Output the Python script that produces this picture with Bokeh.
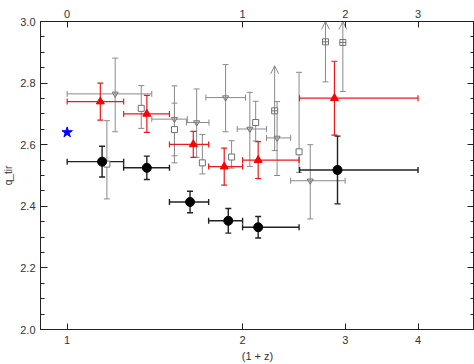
from bokeh.plotting import figure
from bokeh.models import (ColumnDataSource, Whisker, TeeHead, OpenHead, FixedTicker,
                          LogAxis, LinearAxis, Range1d, PrintfTickFormatter,
                          CustomLabelingPolicy)
from bokeh.embed import file_html
from bokeh.resources import INLINE

# ---------------- data ----------------
# black filled circles
bc_z1 = [1.148, 1.370, 1.625, 1.890, 2.127, 2.91]
bc_xlo = [1.0, 1.25, 1.498, 1.749, 2.0, 2.505]
bc_xhi = [1.25, 1.498, 1.749, 2.0, 2.50, 4.0]
bc_q = [2.545, 2.525, 2.414, 2.353, 2.332, 2.518]
bc_qerr = [0.05, 0.038, 0.035, 0.04, 0.035, 0.11]

# red filled triangles
rt_z1 = [1.14, 1.37, 1.646, 1.86, 2.127, 2.875]
rt_xlo = [1.0, 1.25, 1.498, 1.749, 2.0, 2.505]
rt_xhi = [1.25, 1.498, 1.749, 2.0, 2.50, 4.0]
rt_q = [2.740, 2.700, 2.601, 2.529, 2.55, 2.751]
rt_qerr = [0.06, 0.06, 0.042, 0.06, 0.06, 0.12]

# grey open squares
gs_z1 = [1.170, 1.34, 1.528, 1.706, 1.915, 2.106, 2.50]
gs_q = [2.537, 2.718, 2.649, 2.541, 2.560, 2.672, 2.577]
gs_qlo = [2.424, 2.653, 2.564, 2.505, 2.524, 2.612, 2.510]
gs_qhi = [2.678, 2.792, 2.735, 2.633, 2.613, 2.741, 2.835]

# grey lower limits (crossed squares with arrows)
ll_z1 = [2.270, 2.775, 2.972]
ll_q = [2.710, 2.934, 2.932]
ll_qlo = [2.581, 2.804, 2.773]
ll_qup = [2.856, 3.0, 3.0]

# grey open inverted triangles
gt_z1 = [1.209, 1.528, 1.668, 1.870, 2.058, 2.292, 2.613]
gt_xlo = [1.0, 1.397, 1.602, 1.730, 1.958, 2.198, 2.418]
gt_xhi = [1.397, 1.608, 1.751, 2.023, 2.198, 2.418, 2.999]
gt_q = [2.765, 2.683, 2.672, 2.753, 2.651, 2.622, 2.483]
gt_qlo = [2.642, 2.541, 2.559, 2.642, 2.529, 2.500, 2.359]
gt_qhi = [2.881, 2.791, 2.781, 2.860, 2.770, 2.740, 2.600]

# local reference (blue star)
star_z1 = [1.0]
star_q = [2.64]

# ticks
x_ticks = [1, 2, 3, 4]
z_tick_labels = ["0", "1", "2", "3"]
y_ticks = [2.0, 2.2, 2.4, 2.6, 2.8, 3.0]
y_minor = [2.05, 2.1, 2.15, 2.25, 2.3, 2.35, 2.45, 2.5, 2.55, 2.65, 2.7, 2.75,
           2.85, 2.9, 2.95]

# ---------------- figure ----------------
FONT = "Liberation Sans"
AX = "#222222"
GREY = "#8a8a8a"
GREYM = "#707070"

p = figure(width=474, height=364, x_axis_type="log",
           x_range=Range1d(0.9, 5.0), y_range=Range1d(2.0, 3.0),
           output_backend="svg", toolbar_location=None,
           min_border_left=39, min_border_right=0, min_border_top=21, min_border_bottom=0)
p.grid.visible = False
p.outline_line_color = AX
p.background_fill_color = "white"
p.border_fill_color = "white"


def style_axis(ax, tick_in, minor_in):
    ax.axis_line_color = AX
    ax.axis_line_width = 1
    ax.major_tick_line_color = AX
    ax.minor_tick_line_color = AX
    ax.major_tick_in = tick_in
    ax.major_tick_out = 0
    ax.minor_tick_in = minor_in
    ax.minor_tick_out = 0
    ax.major_label_text_font = FONT
    ax.major_label_text_font_size = "11px"
    ax.major_label_text_color = "#333333"
    ax.axis_label_text_font = FONT
    ax.axis_label_text_font_size = "11px"
    ax.axis_label_text_font_style = "normal"
    ax.axis_label_text_color = "#333333"


xb = p.xaxis[0]
xb.ticker = FixedTicker(ticks=x_ticks, minor_ticks=[])
xb.formatter = PrintfTickFormatter(format="%d")
style_axis(xb, 6, 0)
xb.major_label_standoff = 6
xb.axis_label = "(1 + z)"
xb.axis_label_standoff = 3

yl = p.yaxis[0]
yl.ticker = FixedTicker(ticks=y_ticks, minor_ticks=y_minor)
yl.formatter = PrintfTickFormatter(format="%.1f")
style_axis(yl, 7, 4)
yl.axis_label = "q_tir"
yl.axis_label_text_font_size = "10px"
yl.major_label_standoff = 5
yl.axis_label_standoff = 3

xt = LogAxis(ticker=FixedTicker(ticks=x_ticks, minor_ticks=[]),
             formatter=PrintfTickFormatter(format="%d"),
             major_label_overrides={t: s for t, s in zip(x_ticks, z_tick_labels)})
style_axis(xt, 6, 0)
xt.major_label_standoff = 4
p.add_layout(xt, "above")

yr = LinearAxis(ticker=FixedTicker(ticks=y_ticks, minor_ticks=y_minor))
style_axis(yr, 7, 4)
yr.major_label_text_font_size = "0px"
yr.major_label_standoff = 0
yr.major_label_policy = CustomLabelingPolicy(code="return new Set()")
p.add_layout(yr, "right")

# ---------------- sources ----------------
src_gs = ColumnDataSource(dict(x=gs_z1, y=gs_q, lo=gs_qlo, hi=gs_qhi))
src_ll = ColumnDataSource(dict(x=ll_z1, y=ll_q, lo=ll_qlo, hi=ll_qup))
src_gt = ColumnDataSource(dict(x=gt_z1, y=gt_q, lo=gt_qlo, hi=gt_qhi, xlo=gt_xlo, xhi=gt_xhi))
src_rt = ColumnDataSource(dict(x=rt_z1, y=rt_q,
                               lo=[a - b for a, b in zip(rt_q, rt_qerr)],
                               hi=[a + b for a, b in zip(rt_q, rt_qerr)],
                               xlo=rt_xlo, xhi=rt_xhi))
src_bc = ColumnDataSource(dict(x=bc_z1, y=bc_q,
                               lo=[a - b for a, b in zip(bc_q, bc_qerr)],
                               hi=[a + b for a, b in zip(bc_q, bc_qerr)],
                               xlo=bc_xlo, xhi=bc_xhi))


def tee(color, w, size=6):
    return TeeHead(size=size, line_color=color, line_width=w)


def vbar_err(src, color, w, lower="lo", upper="hi", up_head=None):
    wk = Whisker(source=src, base="x", lower=lower, upper=upper, dimension="height",
                 line_color=color, line_width=w,
                 lower_head=tee(color, w),
                 upper_head=up_head if up_head is not None else tee(color, w))
    p.add_layout(wk)


def hbar_err(src, color, w):
    wk = Whisker(source=src, base="y", lower="xlo", upper="xhi", dimension="width",
                 line_color=color, line_width=w,
                 lower_head=tee(color, w), upper_head=tee(color, w))
    p.add_layout(wk)


# grey points
vbar_err(src_gs, GREY, 1)
vbar_err(src_gt, GREY, 1)
hbar_err(src_gt, GREY, 1)
vbar_err(src_ll, GREY, 1, up_head=OpenHead(size=8, line_color=GREY, line_width=1))

p.scatter("x", "y", source=src_gs, marker="square", size=6, line_color=GREYM,
          fill_color="white", line_width=1)
p.scatter("x", "y", source=src_ll, marker="square_cross", size=6, line_color=GREYM,
          fill_color="white", line_width=1)
p.scatter("x", "y", source=src_gt, marker="inverted_triangle", size=6, line_color=GREYM,
          fill_color=None, line_width=1)

# red triangles
RED = "#f01818"
vbar_err(src_rt, RED, 1.2)
hbar_err(src_rt, RED, 1.2)
p.scatter("x", "y", source=src_rt, marker="triangle", size=8, color="#ff0000")

# black circles
vbar_err(src_bc, AX, 1.4)
hbar_err(src_bc, AX, 1.4)
p.scatter("x", "y", source=src_bc, marker="circle", size=9, color="black")

# blue star
p.scatter(star_z1, star_q, marker="star", size=11, color="#0000ff")

open("out.html", "w").write(file_html(p, INLINE))
